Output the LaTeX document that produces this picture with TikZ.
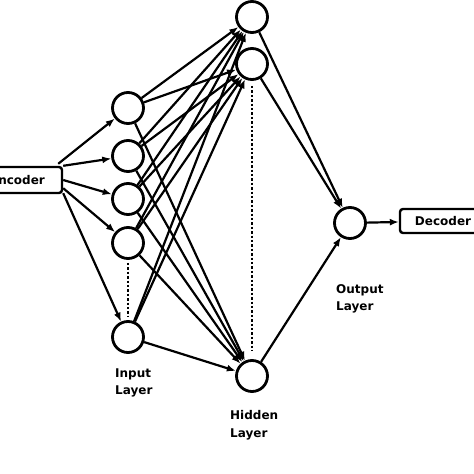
\documentclass[tikz,border=0pt]{standalone}
\usepackage{fontspec}
\setmainfont{DejaVu Sans}
\usetikzlibrary{arrows.meta}
\begin{document}
\begin{tikzpicture}[x=1pt,y=-1pt,
  neuron/.style={circle,draw,line width=2.8pt,minimum size=31pt,inner sep=0pt},
  boxnode/.style={draw,line width=2.4pt,rounded corners=3pt,inner sep=0pt,font=\fontsize{12}{14}\selectfont\bfseries},
  conn/.style={line width=2.2pt,-{Latex[length=9pt,width=7pt]}},
  dots/.style={line width=2.6pt,dash pattern=on 2.4pt off 2pt},
  lbl/.style={anchor=base west,inner sep=0pt,font=\fontsize{12}{14}\selectfont\bfseries}]
\useasboundingbox (0,0) rectangle (474,474);
\fill[white] (0,0) rectangle (474,474);
% nodes
\node[boxnode,minimum width=89pt,minimum height=26pt] (enc) at (17.5,180) {Encoder};
\node[boxnode,minimum width=86pt,minimum height=24pt] (dec) at (443,221) {Decoder};
\node[neuron] (in1) at (128,108) {};
\node[neuron] (in2) at (128,156) {};
\node[neuron] (in3) at (128,199) {};
\node[neuron] (in4) at (128,243) {};
\node[neuron] (in5) at (128,337) {};
\node[neuron] (h1) at (252,17) {};
\node[neuron] (h2) at (252,64) {};
\node[neuron] (h3) at (252,376) {};
\node[neuron] (out) at (350,223) {};
% dotted
\draw[dots] ([yshift=-3pt]in4.south) -- ([yshift=3pt]in5.north);
\draw[dots] ([yshift=-5pt]h2.south) -- ([yshift=8pt]h3.north);
% encoder to input
\draw[conn] ([xshift=-5pt,yshift=2pt]enc.north east) -- (in1);
\draw[conn] (enc.north east) -- (in2);
\draw[conn] (enc.east) -- (in3);
\draw[conn] ([yshift=6pt]enc.south east) -- (in4);
\draw[conn] ([yshift=1pt]enc.south east) -- (in5);
% input to hidden
\foreach \i in {in1,in2,in3,in4,in5}{
  \foreach \h in {h1,h2,h3}{
    \draw[conn] (\i) -- (\h);
  }
}
% hidden to output
\draw[conn] (h1) -- (out);
\draw[conn] (h2) -- (out);
\draw[conn] (h3) -- (out);
\draw[conn] (out) -- (dec);
% labels
\node[lbl] (li1) at (115,377) {Input};
\node[lbl] (li2) at (115,394) {Layer};
\node[lbl] (lh1) at (230,419) {Hidden};
\node[lbl] (lh2) at (230,437) {Layer};
\node[lbl] (lo1) at (336,293) {Output};
\node[lbl] (lo2) at (336,310) {Layer};
\end{tikzpicture}
\end{document}
